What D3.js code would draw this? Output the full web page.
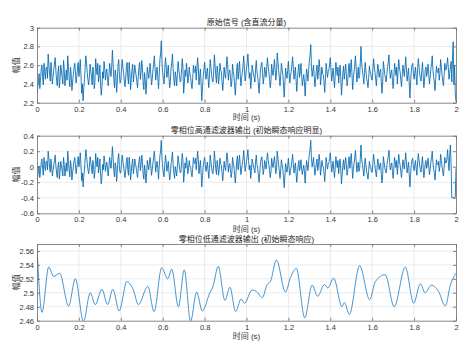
<!DOCTYPE html>
<html><head><meta charset="utf-8">
<script src="https://cdn.jsdelivr.net/npm/d3@7"></script>
<style>body{margin:0;background:#fff}svg{display:block}</style>
</head><body>
<svg id="c" width="474" height="359"></svg>
<script>
const timeStart = 0, timeEnd = 2;

const rawSignal = [
2.30,2.38,2.42,2.51,2.35,2.44,2.55,2.60,2.48,2.39,2.62,2.53,2.45,2.57,2.58,2.46,2.72,2.61,2.50,2.43,
2.63,2.52,2.40,2.47,2.55,2.61,2.68,2.55,2.44,2.38,2.52,2.59,2.36,2.45,2.60,2.54,2.47,2.40,2.65,2.56,
2.38,2.47,2.55,2.44,2.70,2.58,2.46,2.37,2.58,2.50,2.33,2.42,2.50,2.57,2.62,2.53,2.41,2.48,2.57,2.63,
2.48,2.55,2.66,2.49,2.30,2.40,2.22,2.36,2.45,2.58,2.70,2.61,2.52,2.44,2.39,2.47,2.61,2.54,2.47,2.39,
2.58,2.50,2.35,2.43,2.67,2.56,2.50,2.62,2.42,2.49,2.60,2.41,2.28,2.37,2.53,2.46,2.64,2.57,2.44,2.52,
2.56,2.45,2.38,2.49,2.62,2.54,2.48,2.59,2.76,2.60,2.45,2.36,2.55,2.48,2.31,2.43,2.60,2.66,2.50,2.41,
2.43,2.55,2.66,2.58,2.52,2.44,2.37,2.46,2.58,2.63,2.47,2.40,2.63,2.52,2.34,2.45,2.55,2.61,2.42,2.50,
2.60,2.54,2.49,2.42,2.36,2.48,2.57,2.63,2.45,2.53,2.65,2.57,2.40,2.34,2.52,2.44,2.29,2.41,2.58,2.51,
2.46,2.55,2.62,2.50,2.39,2.45,2.55,2.61,2.70,2.57,2.44,2.52,2.58,2.47,2.35,2.49,2.66,2.72,2.86,2.62,
2.52,2.45,2.40,2.56,2.68,2.59,2.47,2.53,2.60,2.46,2.36,2.43,2.57,2.63,2.72,2.55,2.45,2.38,2.53,2.48,
2.38,2.50,2.64,2.56,2.50,2.42,2.43,2.55,2.67,2.58,2.30,2.41,2.55,2.48,2.62,2.54,2.41,2.47,2.58,2.51,
2.47,2.40,2.35,2.46,2.60,2.53,2.52,2.59,2.44,2.56,2.68,2.57,2.39,2.48,2.56,2.40,2.22,2.37,2.48,2.55,
2.63,2.54,2.45,2.51,2.57,2.46,2.36,2.49,2.66,2.58,2.50,2.44,2.42,2.53,2.71,2.60,2.48,2.41,2.59,2.52,
2.40,2.48,2.62,2.55,2.53,2.42,2.33,2.45,2.58,2.50,2.46,2.57,2.69,2.61,2.44,2.52,2.55,2.47,2.37,2.43,
2.61,2.53,2.49,2.38,2.28,2.41,2.56,2.62,2.45,2.54,2.64,2.50,2.38,2.46,2.52,2.59,2.70,2.56,2.43,2.49,
2.57,2.63,2.72,2.58,2.46,2.52,2.35,2.44,2.60,2.55,2.51,2.47,2.42,2.56,2.65,2.53,2.48,2.40,2.30,2.42,
2.55,2.60,2.63,2.51,2.40,2.47,2.58,2.53,2.47,2.58,2.68,2.59,2.53,2.45,2.36,2.43,2.61,2.54,2.49,2.57,
2.66,2.55,2.44,2.52,2.73,2.64,2.55,2.47,2.38,2.49,2.62,2.56,2.50,2.39,2.26,2.41,2.57,2.50,2.46,2.54,
2.64,2.52,2.41,2.48,2.53,2.60,2.69,2.57,2.45,2.51,2.58,2.44,2.32,2.46,2.55,2.61,2.47,2.53,2.62,2.49,
2.38,2.45,2.50,2.41,2.27,2.43,2.56,2.51,2.43,2.55,2.65,2.70,2.82,2.59,2.48,2.54,2.60,2.47,2.37,2.46,
2.54,2.60,2.45,2.52,2.66,2.57,2.39,2.48,2.58,2.51,2.50,2.42,2.31,2.45,2.62,2.55,2.47,2.53,2.55,2.61,
2.68,2.56,2.43,2.50,2.57,2.46,2.36,2.49,2.63,2.55,2.49,2.58,2.41,2.52,2.60,2.47,2.28,2.40,2.52,2.59,
2.45,2.53,2.61,2.50,2.38,2.44,2.56,2.62,2.47,2.55,2.66,2.51,2.34,2.46,2.53,2.60,2.70,2.57,2.42,2.49,
2.58,2.46,2.49,2.63,2.80,2.61,2.55,2.48,2.40,2.52,2.63,2.54,2.46,2.42,2.36,2.47,2.59,2.53,2.51,2.45,
2.44,2.56,2.67,2.58,2.52,2.45,2.38,2.50,2.61,2.55,2.47,2.53,2.56,2.43,2.30,2.41,2.64,2.57,2.50,2.46,
2.42,2.51,2.58,2.63,2.71,2.55,2.46,2.52,2.55,2.44,2.35,2.47,2.62,2.56,2.49,2.58,2.40,2.53,2.66,2.57,
2.53,2.44,2.37,2.49,2.60,2.54,2.48,2.58,2.69,2.56,2.43,2.50,2.57,2.41,2.25,2.42,2.54,2.60,2.62,2.51,
2.45,2.52,2.58,2.47,2.39,2.55,2.67,2.59,2.51,2.46,2.43,2.54,2.63,2.49,2.36,2.44,2.55,2.58,2.48,2.53,
2.61,2.50,2.40,2.47,2.56,2.62,2.70,2.55,2.47,2.42,2.33,2.46,2.59,2.53,2.52,2.57,2.44,2.51,2.66,2.58,
2.50,2.43,2.38,2.49,2.62,2.55,2.55,2.61,2.68,2.57,2.45,2.52,2.58,2.64,2.42,2.70,2.85,2.40,2.60,2.30,
2.21];

const highpassSignal = [
-0.18,-0.12,-0.06,0.01,-0.14,-0.06,0.05,0.10,-0.02,-0.11,0.12,0.03,-0.05,0.07,0.07,-0.04,0.20,0.11,-0.01,-0.07,
0.10,0.00,-0.12,-0.05,0.02,0.08,0.15,0.02,-0.08,-0.14,-0.01,0.06,-0.16,-0.07,0.07,0.01,-0.05,-0.12,0.12,0.03,
-0.12,-0.03,0.05,-0.06,0.20,0.08,-0.04,-0.13,0.08,0.00,-0.17,-0.08,0.00,0.07,0.12,0.03,-0.09,-0.02,0.07,0.13,
0.00,0.07,0.18,0.01,-0.18,-0.08,-0.26,-0.12,-0.03,0.10,0.22,0.13,0.04,-0.04,-0.09,-0.01,0.13,0.06,-0.01,-0.09,
0.08,0.00,-0.15,-0.07,0.17,0.06,0.00,0.12,-0.08,-0.01,0.10,-0.09,-0.22,-0.13,0.03,-0.04,0.14,0.07,-0.06,0.02,
0.06,-0.04,-0.12,0.00,0.12,0.05,-0.02,0.10,0.26,0.11,-0.05,-0.13,0.05,-0.01,-0.19,-0.06,0.10,0.17,0.00,-0.08,
-0.08,0.04,0.15,0.07,0.01,-0.07,-0.14,-0.05,0.07,0.12,-0.04,-0.11,0.12,0.01,-0.17,-0.06,0.04,0.10,-0.09,-0.01,
0.10,0.04,-0.01,-0.08,-0.14,-0.02,0.07,0.13,-0.05,0.03,0.15,0.07,-0.10,-0.16,0.02,-0.06,-0.21,-0.09,0.08,0.01,
-0.04,0.06,0.12,0.01,-0.11,-0.04,0.05,0.12,0.20,0.08,-0.07,0.03,0.07,-0.02,-0.16,0.00,0.14,0.20,0.34,0.10,
-0.01,-0.08,-0.13,0.03,0.15,0.06,-0.06,0.00,0.07,-0.07,-0.17,-0.10,0.04,0.10,0.19,0.02,-0.08,-0.15,0.00,-0.05,
-0.12,0.00,0.14,0.06,0.00,-0.08,-0.07,0.05,0.17,0.08,-0.20,-0.09,0.05,-0.02,0.12,0.04,-0.09,-0.03,0.08,0.01,
-0.01,-0.08,-0.13,-0.02,0.12,0.05,0.04,0.11,-0.04,0.08,0.20,0.09,-0.09,0.00,0.08,-0.08,-0.26,-0.11,0.00,0.07,
0.12,0.03,-0.06,0.00,0.06,-0.05,-0.15,-0.02,0.15,0.07,-0.01,-0.07,-0.09,0.02,0.20,0.09,-0.03,-0.10,0.08,0.01,
-0.11,-0.03,0.11,0.04,0.02,-0.09,-0.18,-0.06,0.07,-0.01,-0.05,0.06,0.18,0.10,-0.07,0.01,0.04,-0.04,-0.14,-0.08,
0.12,0.05,0.00,-0.11,-0.21,-0.07,0.07,0.14,-0.04,0.05,0.15,0.02,-0.10,-0.03,0.03,0.10,0.21,0.08,-0.06,0.00,
0.07,0.13,0.22,0.08,-0.04,0.02,-0.15,-0.06,0.10,0.05,0.01,-0.03,-0.08,0.06,0.15,0.03,-0.02,-0.10,-0.20,-0.08,
0.05,0.10,0.13,0.01,-0.10,-0.03,0.08,0.03,-0.03,0.08,0.18,0.09,0.03,-0.05,-0.14,-0.07,0.11,0.04,-0.01,0.07,
0.13,0.02,-0.09,-0.01,0.20,0.11,0.02,-0.06,-0.15,-0.04,0.09,0.03,-0.03,-0.14,-0.27,-0.12,0.04,-0.03,-0.07,0.01,
0.11,-0.01,-0.11,-0.05,0.00,0.07,0.16,0.04,-0.08,-0.02,0.05,-0.09,-0.20,-0.07,0.02,0.08,-0.05,0.00,0.09,-0.04,
-0.10,-0.03,0.02,-0.07,-0.21,-0.05,0.08,0.03,-0.05,0.07,0.17,0.22,0.34,0.11,0.00,0.06,0.12,-0.01,-0.11,-0.02,
0.04,0.10,-0.05,0.02,0.16,0.07,-0.11,-0.02,0.08,0.01,0.00,-0.08,-0.19,-0.05,0.12,0.05,-0.03,0.03,0.05,0.11,
0.18,0.06,-0.07,0.00,0.07,-0.04,-0.14,-0.01,0.13,0.05,-0.01,0.08,-0.09,0.02,0.10,-0.03,-0.22,-0.10,0.02,0.09,
-0.04,0.04,0.12,0.01,-0.11,-0.05,0.07,0.13,-0.02,0.06,0.17,0.02,-0.15,-0.03,0.04,0.11,0.21,0.08,-0.07,0.00,
0.06,-0.06,-0.03,0.11,0.28,0.09,0.03,-0.04,-0.12,0.00,0.11,0.02,-0.06,-0.10,-0.16,-0.05,0.07,0.01,-0.01,-0.07,
-0.07,0.05,0.16,0.07,0.01,-0.07,-0.13,-0.01,0.10,0.04,-0.04,0.02,0.05,-0.09,-0.21,-0.10,0.13,0.06,-0.01,-0.05,
-0.08,0.01,0.08,0.13,0.21,0.05,-0.04,0.02,0.05,-0.06,-0.15,-0.03,0.12,0.06,-0.01,0.08,-0.10,0.03,0.16,0.07,
0.02,-0.07,-0.14,-0.03,0.09,0.03,-0.03,0.07,0.18,0.05,-0.08,-0.01,0.06,-0.10,-0.26,-0.09,0.03,0.09,0.11,0.00,
-0.05,0.02,0.08,-0.03,-0.11,0.05,0.17,0.09,0.01,-0.04,-0.07,0.04,0.13,-0.01,-0.14,-0.06,0.05,0.08,-0.02,0.03,
0.11,0.00,-0.10,-0.03,0.06,0.12,0.20,0.05,-0.03,-0.08,-0.17,-0.04,0.09,0.03,0.02,0.07,-0.06,0.01,0.16,0.08,
0.00,-0.07,-0.12,-0.01,0.12,0.05,0.05,0.11,0.22,0.07,-0.05,0.14,0.28,0.02,-0.40,-0.40,-0.39,-0.40,-0.40,-0.39,
-0.02];

const lowpassTime = [0,0.024,0.056,0.079,0.108,0.151,0.183,0.222,0.254,0.278,
0.31,0.337,0.362,0.392,0.429,0.46,0.484,0.529,0.559,0.595,
0.624,0.643,0.675,0.703,0.733,0.762,0.789,0.825,0.84,0.865,
0.897,0.921,0.948,0.974,0.99,1.027,1.048,1.075,1.099,1.114,
1.143,1.186,1.21,1.238,1.278,1.313,1.34,1.372,1.388,1.416,
1.456,1.467,1.491,1.54,1.588,1.615,1.662,1.705,1.758,1.798,
1.83,1.853,1.881,1.917,1.949,1.973,2.0];
const lowpassValue = [2.566,2.472,2.537,2.5235,2.528,2.481,2.52,2.459,2.50,2.483,
2.505,2.483,2.505,2.474,2.516,2.504,2.483,2.509,2.473,2.536,
2.52,2.534,2.48,2.533,2.459,2.501,2.474,2.5,2.509,2.538,
2.489,2.508,2.473,2.491,2.485,2.504,2.502,2.493,2.512,2.516,
2.547,2.501,2.522,2.535,2.464,2.511,2.495,2.512,2.507,2.521,
2.48,2.486,2.469,2.539,2.49,2.516,2.526,2.48,2.537,2.485,
2.513,2.5,2.511,2.502,2.481,2.511,2.528];

const xTicks = [0,0.2,0.4,0.6,0.8,1,1.2,1.4,1.6,1.8,2];
const yTicksRaw = [2.2,2.4,2.6,2.8,3];
const yTicksHigh = [-0.6,-0.4,-0.2,0,0.2,0.4];
const yTicksLow = [2.46,2.48,2.5,2.52,2.54,2.56];
const titles = ["原始信号 (含直流分量)","零相位高通滤波器输出 (初始瞬态响应明显)","零相位低通滤波器输出 (初始瞬态响应)"];
const xLabel = "时间 (s)";
const yLabel = "幅值";

const svg = d3.select("#c");
const FONT = "'Liberation Sans','Noto Sans CJK SC',sans-serif";
const L = 37, R = 456;
const fmt = d => String(+(+d).toFixed(2));

function toSeries(vals){
  const n = vals.length;
  return vals.map((v,i)=>({t: timeStart + (timeEnd-timeStart)*i/(n-1), v}));
}

function panel(cfg, idx){
  const x = d3.scaleLinear().domain([timeStart,timeEnd]).range([L,R]);
  const y = d3.scaleLinear().domain(cfg.yDomain).range([cfg.bottom,cfg.top]);
  const g = svg.append("g");
  g.append("g").selectAll("line").data(xTicks.slice(1,-1)).join("line")
    .attr("x1",d=>x(d)).attr("x2",d=>x(d)).attr("y1",cfg.top).attr("y2",cfg.bottom)
    .attr("stroke","#e3e3e3").attr("stroke-width",0.7);
  g.append("g").selectAll("line").data(cfg.yTicks.filter(d=>y(d)>cfg.top+0.5 && y(d)<cfg.bottom-0.5)).join("line")
    .attr("x1",L).attr("x2",R).attr("y1",d=>y(d)).attr("y2",d=>y(d))
    .attr("stroke","#e3e3e3").attr("stroke-width",0.7);
  const cid = "clip"+idx;
  svg.append("clipPath").attr("id",cid).append("rect")
    .attr("x",L).attr("y",cfg.top).attr("width",R-L).attr("height",cfg.bottom-cfg.top);
  const line = d3.line().x(d=>x(d.t)).y(d=>y(d.v)).curve(cfg.curve || d3.curveLinear);
  g.append("path").datum(cfg.data).attr("clip-path",`url(#${cid})`)
    .attr("d",line).attr("fill","none").attr("stroke",cfg.color).attr("stroke-width",cfg.width)
    .attr("stroke-linejoin","round");
  const axStyle = sel => {
    sel.attr("font-family",FONT).attr("font-size",7.5);
    sel.selectAll("path.domain").attr("stroke","#6b6b6b").attr("stroke-width",0.8);
    sel.selectAll(".tick line").attr("stroke","#6b6b6b").attr("stroke-width",0.8);
    sel.selectAll("text").attr("fill","#333");
  };
  g.append("g").attr("transform",`translate(0,${cfg.bottom})`)
    .call(d3.axisBottom(x).tickValues(xTicks).tickFormat(fmt).tickSizeInner(-3).tickSizeOuter(0).tickPadding(3.5)).call(axStyle);
  g.append("g").attr("transform",`translate(0,${cfg.top})`)
    .call(d3.axisTop(x).tickValues(xTicks).tickFormat("").tickSizeInner(-3).tickSizeOuter(0)).call(axStyle);
  g.append("g").attr("transform",`translate(${L},0)`)
    .call(d3.axisLeft(y).tickValues(cfg.yTicks).tickFormat(fmt).tickSizeInner(-3).tickSizeOuter(0).tickPadding(3)).call(axStyle);
  g.append("g").attr("transform",`translate(${R},0)`)
    .call(d3.axisRight(y).tickValues(cfg.yTicks).tickFormat("").tickSizeInner(-3).tickSizeOuter(0)).call(axStyle);
  g.append("text").attr("x",(L+R)/2).attr("y",cfg.titleY).attr("text-anchor","middle")
    .attr("font-family",FONT).attr("font-size",8).attr("fill","#222").text(titles[idx]);
  g.append("text").attr("x",(L+R)/2).attr("y",cfg.xlabY).attr("text-anchor","middle")
    .attr("font-family",FONT).attr("font-size",8).attr("fill","#333").text(xLabel);
  g.append("text").attr("transform",`translate(19,${(cfg.top+cfg.bottom)/2}) rotate(-90)`)
    .attr("text-anchor","middle").attr("font-family",FONT).attr("font-size",8).attr("fill","#333").text(yLabel);
}

panel({top:27.7,bottom:102.7,yDomain:[2.2,3],yTicks:yTicksRaw,data:toSeries(rawSignal),
  color:"#0068b0",width:0.85,titleY:25,xlabY:119.5},0);
panel({top:135.7,bottom:213.3,yDomain:[-0.6,0.4],yTicks:yTicksHigh,data:toSeries(highpassSignal),
  color:"#0068b0",width:0.85,titleY:133,xlabY:231.5},1);
panel({top:244,bottom:320.7,yDomain:[2.46,2.57],yTicks:yTicksLow,
  data:lowpassTime.map((t,i)=>({t,v:lowpassValue[i]})),curve:d3.curveMonotoneX,
  color:"#3189c9",width:0.9,titleY:241.5,xlabY:338.5},2);
</script>
</body></html>
